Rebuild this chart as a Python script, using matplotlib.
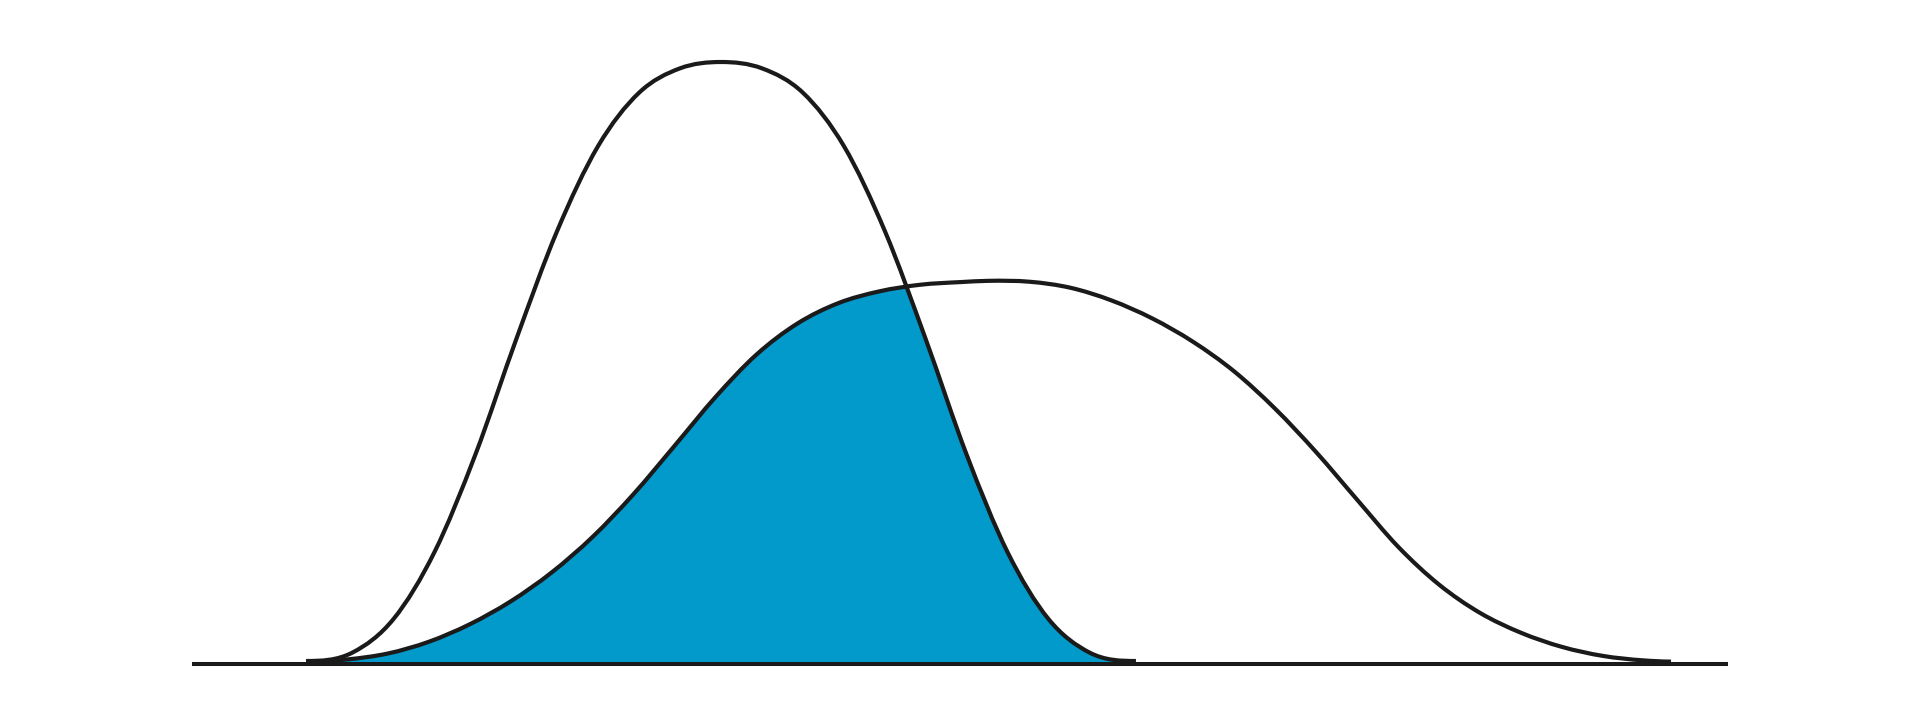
import matplotlib.pyplot as plt
import numpy as np
from matplotlib.path import Path
from matplotlib.patches import PathPatch

# narrow bell curve (peak height = 100)
narrow_x = [0.0, 3.4, 6.4, 9.4, 12.4, 15.4, 18.4, 21.4, 24.4, 27.4, 30.4,
            33.4, 36.4, 39.4, 42.4, 45.4, 48.4, 51.4, 54.4, 57.4, 60.8]
narrow_y = [0.5, 1.9, 7.45, 18.55, 34.75, 53.95, 71.95, 86.05, 94.9, 98.95, 100.0,
            98.95, 94.9, 86.05, 71.95, 53.95, 34.75, 18.55, 7.45, 1.9, 0.5]

# wide bell curve
wide_x = [0, 3, 6, 9, 12, 15, 18, 21, 24, 27, 30, 33, 36, 39, 42, 45, 48, 50,
          53, 56, 59, 62, 65, 68, 71, 74, 77, 80, 83, 86, 89, 92, 95, 98, 100]
wide_y = [0.4, 0.76, 1.75, 3.7, 6.61, 10.42, 15.22, 21.13, 28.24, 36.25, 44.35,
          51.4, 56.56, 59.95, 61.9, 63.0, 63.45, 63.65, 63.5, 62.5, 60.4,
          57.4, 53.5, 48.6, 42.4, 35.2, 27.3, 19.5, 13.2, 8.5, 5.2,
          2.85, 1.35, 0.6, 0.4]

axis_x = [-8.35, 104.2]  # baseline extent

line_col = '#1a1a1a'
fill_col = '#019acb'


def bezier(xs, ys):
    # smooth cubic hermite through the read points, as bezier verts/codes
    x = np.asarray(xs, float)
    y = np.asarray(ys, float)
    h = np.diff(x)
    d = np.diff(y) / h
    m = np.zeros_like(y)
    m[1:-1] = (h[:-1] * d[1:] + h[1:] * d[:-1]) / (h[:-1] + h[1:])
    verts = [(x[0], y[0])]
    codes = [Path.MOVETO]
    for i in range(len(x) - 1):
        verts += [(x[i] + h[i] / 3, y[i] + m[i] * h[i] / 3),
                  (x[i + 1] - h[i] / 3, y[i + 1] - m[i + 1] * h[i] / 3),
                  (x[i + 1], y[i + 1])]
        codes += [Path.CURVE4] * 3
    return verts, codes


def area(xs, ys):
    verts, codes = bezier(xs, ys)
    verts += [(xs[-1], 0), (xs[0], 0), (xs[0], 0)]
    codes += [Path.LINETO, Path.LINETO, Path.CLOSEPOLY]
    return Path(verts, codes)


fig = plt.figure(figsize=(19.2, 7.2), dpi=100)
ax = fig.add_axes([0, 0, 1, 1])
ax.set_xlim(-22.42, 118.24)
ax.set_ylim(-9.3, 110.3)
ax.axis('off')

# shaded overlap: area under the wide curve clipped to the area under the narrow one
shade = PathPatch(area(wide_x, wide_y), facecolor=fill_col, edgecolor='none')
ax.add_patch(shade)
clip = PathPatch(area(narrow_x, narrow_y), transform=ax.transData)
shade.set_clip_path(clip)

for xs, ys in ((wide_x, wide_y), (narrow_x, narrow_y)):
    v, c = bezier(xs, ys)
    ax.add_patch(PathPatch(Path(v, c), facecolor='none', edgecolor=line_col,
                           lw=3.0, capstyle='butt', joinstyle='round'))

ax.plot(axis_x, [0, 0], color=line_col, lw=2.9, solid_capstyle='butt')

plt.savefig('out.png', dpi=100, facecolor='white')
